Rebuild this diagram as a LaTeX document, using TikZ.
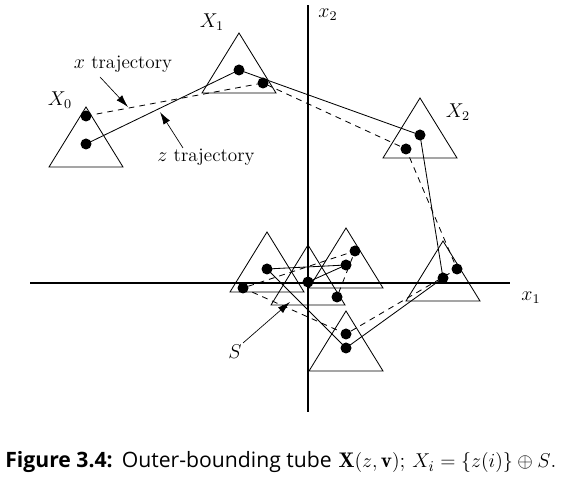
\documentclass[tikz,border=0pt]{standalone}
\usepackage{fontspec}
\newfontfamily\capfont{Open Sans}
\usetikzlibrary{arrows,arrows.meta,calc}

\begin{document}
\begin{tikzpicture}[x=0.6pt,y=-0.6pt,>={Latex[length=7.5pt,width=4.5pt]},
    axis/.style={line width=0.7pt},
    tube/.style={line width=0.5pt},
    ztraj/.style={line width=0.5pt},
    xtraj/.style={line width=0.5pt,dash pattern=on 3.5pt off 3pt},
    lbl/.style={inner sep=1pt,font=\fontsize{11.5}{13}\selectfont}]
    \useasboundingbox (0,0) rectangle (568,477);
    \def\nv{7}
    \def\centers{
      \coordinate (z0) at (86,144);
      \coordinate (z1) at (239,70);
      \coordinate (z2) at (420,135);
      \coordinate (z3) at (443,278);
      \coordinate (z4) at (346,348);
      \coordinate (z5) at (267,269);
      \coordinate (z6) at (346,265);
      \coordinate (z7) at (308,282);
    }
    \def\statePoints{
      \coordinate (x0) at (86,116);
      \coordinate (x1) at (263,83);
      \coordinate (x2) at (406,149);
      \coordinate (x3) at (457,269);
      \coordinate (x4) at (346,334);
      \coordinate (x5) at (243,288);
      \coordinate (x6) at (355,251);
      \coordinate (x7) at (337,297);
    }
    \def\showAxes{
      \coordinate (h0) at (30,283);  \coordinate (h1) at (510,283);
      \coordinate (v0) at (308,412); \coordinate (v1) at (308,5);
      \draw [axis] (h0) -- (h1);
      \draw [axis] (v0) -- (v1);
      \node [lbl] (xone) at (531,298) {$x_1$};
      \node [lbl] (xtwo) at (328,15) {$x_2$};
    }
    \def\showTubes{
      % one copy of S round each z point
      \foreach \i in {0,...,\nv}
        \draw [tube] ($(z\i)+(0,-37)$) -- ++(37,60) -- ++(-74,0) -- cycle;
      \node [lbl] (X0) at (60,100) {$X_0$};
      \node [lbl] (X1) at (212,22) {$X_1$};
      \node [lbl] (X2) at (458,112) {$X_2$};
    }
    \def\showTrajectories{
      \draw [ztraj] (z0) \foreach \i in {1,...,\nv} { -- (z\i) };
      \draw [xtraj] (x0) \foreach \i in {1,...,\nv} { -- (x\i) };
      \foreach \i in {0,...,\nv} {
        \fill [black] (z\i) circle (5.5);
        \fill [black] (x\i) circle (5.5);
      }
    }
    \def\showLabels{
      \node [lbl] (xlab) at (123,64) {$x$ trajectory};
      \node [lbl] (zlab) at (206,157) {$z$ trajectory};
      \node [lbl] (slab) at (235,352) {$S$};
      \coordinate (xtail) at (100,77);  \coordinate (xtip) at (128,107);
      \coordinate (ztail) at (183,148); \coordinate (ztip) at (160,112);
      \coordinate (stail) at (243,343); \coordinate (stip) at (290,302);
      \draw [->] (xtail) -- (xtip);
      \draw [->] (ztail) -- (ztip);
      \draw [->] (stail) -- (stip);
    }
    \centers
    \statePoints
    \showAxes
    \showTubes
    \showTrajectories
    \showLabels
    \node [anchor=base west,inner sep=0pt,font=\fontsize{12.7}{15}\selectfont] (cap) at (5,468)
      {{\capfont\bfseries Figure 3.4:} {\capfont Outer-bounding tube} $\mathbf{X}(z,\mathbf{v})$; $X_i=\{z(i)\}\oplus S$.};
\end{tikzpicture}
\end{document}
